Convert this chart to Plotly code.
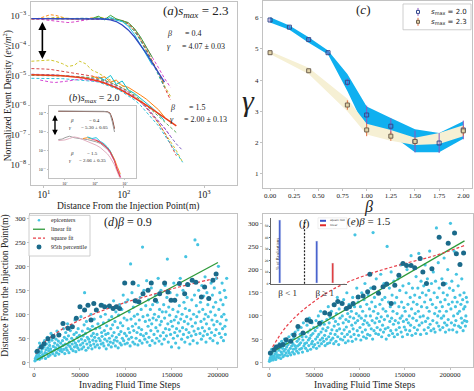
import plotly.graph_objects as go

W, H = 474, 391
SERIF = "Liberation Serif"
SANS = "DejaVu Sans"
FRAME = "#c2c2c2"
INK = "#222222"

def fx(p):
    return p / W

def fy(p):
    return 1 - p / H

def scaled(vals, k):
    return [None if v is None else v * k for v in vals]

# ---------------- (a) event density vs distance, s_max = 2.3 ----------------
A_DIST = [7, 8, 9, 10, 12, 14, 17, 20, 24, 28, 33, 40, 48, 57, 68, 80, 95,
          113, 135, 160, 190, 226, 270, 320, 380, 450, 540, 640]
# beta = 0.4 family (units 1e-4)
A_UP_1 = [8.0, 8.0, 8.5, 9.5, 11.0, 10.5, 9.0, 8.0, 7.6, 8.3, 8.0, 8.6, 8.2, 8.5, 7.6, 7.8, 6.8, 5.2, 3.0, 1.6, 0.7, 0.3, 0.12, 0.05, None, None, None, None]
A_UP_2 = [8.0, 8.0, 7.8, 7.5, 7.0, 6.5, 6.2, 6.0, 6.3, 6.8, 7.5, 8.0, 7.8, 8.2, 8.0, 7.4, 7.0, 5.8, 3.6, 1.9, 0.9, 0.4, 0.18, 0.08, 0.04, None, None, None]
A_UP_3 = [8.0, 8.1, 8.0, 8.2, 8.5, 9.0, 8.7, 8.3, 8.0, 7.8, 8.2, 8.0, 9.5, 8.4, 8.0, 7.6, 7.0, 5.5, 3.4, 1.7, 0.75, 0.3, 0.12, 0.045, 0.02, None, None, None]
A_UP_4 = [8.0, 8.0, 8.0, 8.0, 8.0, 8.0, 8.0, 8.0, 8.0, 8.0, 8.0, 8.0, 8.0, 8.0, 8.0, 7.8, 7.0, 5.5, 3.5, 1.7, 0.75, 0.3, 0.12, 0.04, 0.015, None, None, None]
A_UP_5 = [None, None, None, None, None, 8.0, 8.1, 8.0, 7.9, 8.2, 8.4, 8.0, 8.6, 7.8, 8.2, 7.5, 6.6, 5.0, 3.1, 1.5, 0.65, 0.28, 0.1, 0.04, None, None, None, None]
A_UP_6 = [None] * 11 + [8.2, 9.8, 7.5, 10.5, 8.0, 7.0, 6.0, 3.8, 2.0, 0.9, 0.4] + [None] * 6
A_UP_7 = [None] * 12 + [8.5, 7.5, 9.0, 7.2, 6.5, 4.5, 2.4, 1.1, 0.5, 0.22] + [None] * 6
A_UP_FIT = [8.2, 8.2, 8.2, 8.2, 8.2, 8.2, 8.2, 8.2, 8.2, 8.2, 8.2, 8.2, 8.1, 7.9, 7.4, 6.5, 5.0, 3.4, 2.0, 1.1, 0.55, 0.26, 0.12, 0.06, None, None, None, None]
# beta = 1.5 family (units 1e-6)
A_LO_1 = [30, 31, 32, 33, 33, 30, 25, 20, 22, 30, 25, 15, 12, 9, 7, 6, 4.5, 3.5, 2.4, 1.5, 0.9, 0.5, 0.25, 0.12, 0.06, 0.03, 0.012, None]
A_LO_2 = [17, 17, 17, 16.5, 16, 15, 14, 13, 12, 11, 10, 9.5, 8.5, 7.0, 5.8, 4.8, 3.8, 2.8, 2.0, 1.3, 0.8, 0.45, 0.25, 0.12, 0.05, 0.02, None, None]
A_LO_3 = [8, 8, 8, 8, 8, 8, 7.8, 7.5, 7.3, 7.0, 6.8, 6.4, 6.0, 5.0, 4.3, 3.6, 2.8, 2.1, 1.5, 1.0, 0.6, 0.35, 0.2, 0.1, 0.05, 0.025, 0.012, None]
A_LO_4 = [None, None, 7, 6.5, 6, 5.8, 6, 6.5, 7, 7.5, 7.2, 6.8, 6.2, 5.5, 4.8, 4.0, 3.2, 2.5, 1.9, 1.3, 0.85, 0.5, 0.3, 0.17, 0.09, None, None, None]
A_LO_5 = [11, 11, 11, 11, 11, 10.5, 10, 9.8, 9.5, 9, 8.5, 8, 7.2, 6.2, 5.2, 4.2, 3.4, 2.6, 1.9, 1.3, 0.85, 0.5, 0.3, 0.17, 0.09, 0.05, 0.03, None]
A_LO_6 = [10, 10, 10, 10, 10, 10, 10, 9.5, 9.2, 9, 8.8, 8.5, 7.6, 6.8, 5.8, 4.8, 3.9, 3.0, 2.2, 1.5, 1.0, 0.65, 0.42, 0.28, 0.18, 0.12, None, None]
A_LO_7 = [None] * 11 + [9.5, 8, 9, 6, 7, 4.5, 4.0, 3.0, 2.2, 1.6, 1.1, 0.7, 0.4] + [None] * 4
A_LO_8 = [None] * 12 + [9, 7, 10, 5, 6.5, 3.2, 2.5, 1.7, 1.2, 0.8, 0.5, 0.3] + [None] * 4
A_LO_FIT = [10.5, 10.5, 10.4, 10.3, 10.2, 10, 9.8, 9.5, 9, 8.5, 8, 7.3, 6.5, 5.6, 4.7, 3.9, 3.1, 2.4, 1.8, 1.35, 1.0, 0.72, 0.52, 0.38, 0.27, 0.2, None, None]

A_UP_CURVES = [A_UP_1, A_UP_2, A_UP_3, A_UP_4, A_UP_5, A_UP_6, A_UP_7]
A_UP_STYLE = [("#ff8c1a", "3px,2px"), ("#d845c8", "3px,2px"), ("#c8bd2a", "3px,2px"),
              ("#e03a3a", "3px,2px"), ("#1fb0a0", "3px,2px"), ("#3aa23a", "solid"),
              ("#1fc3e3", "solid")]
A_LO_CURVES = [A_LO_1, A_LO_2, A_LO_3, A_LO_4, A_LO_5, A_LO_6, A_LO_7, A_LO_8]
A_LO_STYLE = [("#cfc52c", "3px,2px"), ("#d84848", "3px,2px"), ("#2ec0d8", "3px,2px"),
              ("#d548d5", "3px,2px"), ("#7f62c2", "3px,2px"), ("#5fae5f", "3px,2px"),
              ("#ff7f0e", "solid"), ("#12bfd2", "solid")]

# ---------------- (b) inset, s_max = 2.0 ----------------
B_DIST = [6, 8, 10, 14, 20, 28, 40, 56, 80, 110, 150, 200, 260, 320, 380, 450, 550, 700, 850]
B_UP_1 = [1.25] * 12 + [1.2, 1.0, 0.5, 0.15, None, None, None]   # units 1e-4
B_UP_2 = [1.3] * 11 + [1.25, 1.15, 0.9, 0.35, 0.1, None, None, None]
B_LO_1 = [4, 4.2, 5, 6, 5, 4.5, 4.2, 4, 3.5, 3, 2.5, 1.8, 1.2, 0.8, 0.5, 0.3, 0.12, 0.05, None]  # units 1e-6
B_LO_2 = [3.5, 3.6, 3.8, 4.5, 5.5, 5, 4, 3.2, 2.6, 2.0, 1.5, 1.0, 0.7, 0.45, 0.3, 0.18, 0.08, 0.03, 0.015]
B_LO_3 = [None] * 6 + [4.5, 5, 4.2, 3.5, 3.0, 2.2, 1.5, 1.0, 0.6, 0.35, 0.15, 0.06, None]
B_LO_4 = [None] * 7 + [5.5, 4.5, 5, 3.2, 2.4, 1.6, 1.0, 0.55, 0.3, None, None, None]
B_LO_5 = [None] * 8 + [4, 3.8, 3.0, 2.0, 1.3, 0.8, 0.5, 0.28, 0.12, 0.05, 0.02]
B_LO_6 = [None] * 9 + [3.6, 2.8, 2.0, 1.4, 0.9, 0.55, 0.3, 0.1, 0.04, None]
B_UP_CURVES = [B_UP_1, B_UP_2]
B_UP_STYLE = ["#8b3a2a", "#9a9a9a"]
B_LO_CURVES = [B_LO_1, B_LO_2, B_LO_3, B_LO_4, B_LO_5, B_LO_6]
B_LO_STYLE = ["#a0a0a0", "#e0b0c0", "#ff8c1a", "#1fc3e3", "#e070d0", "#e04040"]

# ---------------- (c) gamma vs beta ----------------
C_BETA_20 = [0.0, 0.2, 0.4, 0.6, 0.8, 1.0, 1.25, 1.5, 1.75, 2.0]
C_GAMMA_20 = [5.93, 5.7, 5.3, 4.88, 3.93, 2.88, 2.52, 2.03, 1.98, 2.4]
C_ERR_20 = [0.05, 0.04, 0.06, 0.05, 0.12, 0.3, 0.25, 0.35, 0.32, 0.3]
C_BAND_20_LO = [5.85, 5.62, 5.2, 4.82, 3.65, 2.35, 2.25, 1.68, 1.68, 2.12]
C_BAND_20_HI = [6.02, 5.75, 5.38, 4.95, 4.2, 3.15, 2.78, 2.42, 2.3, 2.68]
C_BETA_23 = [0.0, 0.4, 0.8, 1.0, 1.25, 1.5, 2.0]
C_GAMMA_23 = [4.88, 4.3, 3.2, 2.4, 2.2, 2.03, 2.37]
C_ERR_23 = [0.03, 0.05, 0.15, 0.2, 0.15, 0.12, 0.15]
C_BAND_23_X = [0.0, 0.4, 0.8, 1.0, 1.25, 1.5, 1.75, 2.0]
C_BAND_23_LO = [4.84, 4.2, 3.0, 2.25, 2.05, 1.92, 1.95, 2.2]
C_BAND_23_HI = [4.93, 4.4, 3.4, 2.6, 2.4, 2.15, 2.3, 2.55]

# ---------------- (d) beta = 0.9 (time in thousands of steps) ----------------
D_EPI = [(1,3),(1.5,8),(2,5),(2.5,12),(3,18),(3.5,7),(4,25),(4.5,10),(5,15),(5.5,30),(6,6),(6.5,20),(7,12),(7.5,35),(8,22),(8.5,9),(9,28),(9.5,16),(2,22),(6,40),
 (10.5,14),(11,32),(11.5,45),(12,20),(12.5,8),(13,26),(13.5,38),(14,18),(14.5,52),(15,30),(15.5,12),(16,24),(16.5,42),(17,35),(17.5,15),(18,28),(18.5,60),(19,22),(19.5,46),
 (20.5,18),(21,33),(21.5,55),(22,25),(22.5,40),(23,14),(23.5,30),(24,48),(24.5,20),(25,65),(25.5,36),(26,27),(26.5,44),(27,17),(27.5,32),(28,58),(28.5,24),(29,40),(29.5,28),
 (30.5,22),(31,45),(31.5,35),(32,70),(32.5,27),(33,52),(33.5,18),(34,38),(34.5,62),(35,30),(35.5,48),(36,25),(36.5,80),(37,36),(37.5,55),(38,20),(38.5,42),(39,33),(39.5,66),
 (40.5,28),(41,50),(41.5,38),(42,75),(42.5,24),(43,45),(43.5,58),(44,32),(44.5,88),(45,40),(45.5,22),(46,62),(46.5,35),(47,52),(47.5,30),(48,70),(48.5,44),(49,26),(49.5,56),
 (50.5,36),(51,95),(51.5,48),(52,28),(52.5,65),(53,40),(53.5,55),(54,32),(54.5,78),(55,145),(55.5,45),(56,60),(56.5,25),(57,85),(57.5,38),(58,52),(58.5,70),(59,30),(59.5,48),
 (60.5,42),(61,68),(61.5,35),(62,100),(62.5,55),(63,28),(63.5,75),(64,46),(64.5,60),(65,38),(65.5,90),(66,52),(66.5,32),(67,70),(67.5,44),(68,110),(68.5,58),(69,36),(69.5,80),
 (70.5,50),(71,30),(71.5,72),(72,45),(72.5,95),(73,38),(73.5,62),(74,54),(74.5,120),(75,40),(75.5,82),(76,34),(76.5,66),(77,48),(77.5,100),(78,58),(78.5,28),(79,76),(79.5,44),
 (80.5,60),(81,36),(81.5,88),(82,50),(82.5,115),(83,42),(83.5,70),(84,32),(84.5,95),(85,55),(85.5,78),(86,40),(86.5,128),(87,62),(87.5,46),(88,85),(88.5,34),(89,105),(89.5,52),
 (90.5,44),(91,72),(91.5,30),(92,98),(92.5,58),(93,120),(93.5,40),(94,82),(94.5,64),(95,36),(95.5,110),(96,50),(96.5,76),(97,140),(97.5,45),(98,92),(98.5,60),(99,38),(99.5,125),
 (100.5,55),(101,88),(101.5,40),(102,130),(102.5,70),(103,48),(103.5,105),(104,62),(104.5,34),(105,205),(105.5,90),(106,52),(106.5,145),(107,75),(107.5,42),(108,115),(108.5,66),(109,96),(109.5,38),
 (110.5,80),(111,50),(111.5,125),(112,62),(112.5,100),(113,36),(113.5,160),(114,72),(114.5,88),(115,45),(115.5,135),(116,58),(116.5,110),(117,68),(117.5,40),(118,240),(118.5,95),(119,55),(119.5,150),
 (120.5,48),(121,85),(121.5,118),(122,60),(122.5,170),(123,42),(123.5,98),(124,75),(124.5,130),(125,52),(125.5,88),(126,35),(126.5,110),(127,66),(127.5,155),(128,80),(128.5,45),(129,120),(129.5,92),
 (130.5,58),(131,100),(131.5,40),(132,140),(132.5,72),(133,88),(133.5,50),(134,125),(134.5,65),(135,175),(135.5,95),(136,44),(136.5,110),(137,78),(137.5,55),(138,150),(138.5,85),(139,38),(139.5,105),
 (140.5,62),(141,120),(141.5,48),(142,92),(142.5,160),(143,70),(143.5,105),(144,55),(144.5,135),(145,215),(145.5,80),(146,42),(146.5,115),(147,68),(147.5,98),(148,145),(148.5,58),(149,85),(149.5,32),
 (150.5,75),(151,110),(151.5,50),(152,165),(152.5,88),(153,62),(153.5,128),(154,40),(154.5,95),(155,70),(155.5,140),(156,55),(156.5,105),(157,82),(157.5,30),(158,118),(158.5,65),(159,175),(159.5,90),
 (160.5,48),(161,100),(161.5,72),(162,150),(162.5,58),(163,125),(163.5,85),(164,42),(164.5,112),(165,220),(165.5,68),(166,95),(166.5,135),(167,52),(167.5,80),(168,160),(168.5,62),(169,108),(169.5,38),
 (170.5,90),(171,55),(171.5,130),(172,75),(172.5,170),(173,45),(173.5,100),(174,65),(174.5,140),(175,255),(175.5,82),(176,58),(176.5,118),(177,95),(177.5,40),(178,245),(178.5,70),(179,150),(179.5,105),
 (180.5,60),(181,125),(181.5,85),(182,48),(182.5,160),(183,72),(183.5,110),(184,55),(184.5,138),(185,90),(185.5,65),(186,178),(186.5,100),(187,42),(187.5,80),(188,145),(188.5,58),(189,120),(189.5,95),
 (190.5,70),(191,132),(191.5,50),(192,105),(192.5,165),(193,62),(193.5,88),(194,140),(194.5,45),(195,115),(195.5,78),(196,155),(196.5,56),(197,98),(197.5,125),(198,68),(198.5,175),(199,85),(199.5,40),
 (200.5,200),(201,110),(201.5,60),(202,145),(202.5,80),(203,130),(203.5,52),(204,95),(204.5,165),(205,70),(205.5,120),(206,45),(206.5,100),(207,150),(207.5,75),(208,58),(208.5,135),(209,88),(209.5,175)]
D_P95 = [(3.6,22.7),(8,31.7),(10.9,38.5),(15.2,48.9),(20.7,53.7),(27,57),(31.5,81),(37,71),(41.7,74),(46,91.5),
 (50,115.6),(55,108.7),(58.7,119),(62,88),(65,122.5),(67.8,108.7),(73,119),(76.8,115.6),(82,117),(86,112),(89.5,115.6),
 (93,112),(98.6,165),(107.6,165),(110,128),(114,126),(118.5,143),(124,150),(127.5,165),(132,129),(136.6,143),(142,165),
 (145.6,146.6),(149,129),(153,129),(158,164),(163.8,143),(167,162),(172,171),(176,167),(182,136),(185.5,157),(190,133),
 (194.5,171),(198,184)]
D_LIN_T = [3, 200]
D_LIN_R = [5, 208]
D_SQ_T = [2, 10, 25, 50, 75, 100, 125, 150, 175, 200]
D_SQ_R = [17.6, 39, 62, 88, 108, 125, 139, 153, 165, 176]

# ---------------- (e) beta = 1.5 ----------------
E_EPI = [(0.5,2),(1,6),(1.5,10),(2,4),(2.5,15),(3,8),(3.5,20),(4,12),(4.5,5),(5,25),(5.5,14),(6,9),(6.5,30),(7,18),(7.5,6),(8,22),(8.5,12),(9,35),(9.5,16),(3,28),
 (10.5,10),(11,26),(11.5,40),(12,15),(12.5,32),(13,8),(13.5,22),(14,45),(14.5,18),(15,30),(15.5,12),(16,36),(16.5,24),(17,50),(17.5,15),(18,28),(18.5,42),(19,20),(19.5,33),
 (20.5,14),(21,38),(21.5,25),(22,55),(22.5,20),(23,44),(23.5,30),(24,16),(24.5,48),(25,35),(25.5,60),(26,22),(26.5,40),(27,28),(27.5,52),(28,18),(28.5,36),(29,65),(29.5,30),
 (30.5,24),(31,45),(31.5,35),(32,70),(32.5,20),(33,50),(33.5,38),(34,28),(34.5,60),(35,42),(35.5,75),(36,30),(36.5,55),(37,22),(37.5,48),(38,85),(38.5,35),(39,62),(39.5,40),
 (40.5,30),(41,55),(41.5,42),(42,80),(42.5,25),(43,65),(43.5,48),(44,36),(44.5,95),(45,52),(45.5,70),(46,28),(46.5,58),(47,40),(47.5,85),(48,45),(48.5,62),(49,33),(49.5,75),
 (50.5,38),(51,68),(51.5,50),(52,90),(52.5,30),(53,75),(53.5,55),(54,42),(54.5,100),(55,60),(55.5,35),(56,80),(56.5,48),(57,110),(57.5,65),(58,40),(58.5,88),(59,52),(59.5,72),
 (60.5,45),(61,82),(61.5,58),(62,36),(62.5,105),(63,68),(63.5,50),(64,92),(64.5,40),(65,75),(65.5,120),(66,55),(66.5,85),(67,42),(67.5,98),(68,62),(68.5,48),(69,110),(69.5,70),
 (70.5,52),(71,95),(71.5,40),(72,78),(72.5,125),(73,60),(73.5,88),(74,45),(74.5,105),(75,68),(75.5,140),(76,55),(76.5,82),(77,38),(77.5,115),(78,72),(78.5,95),(79,50),(79.5,130),
 (80.5,62),(81,100),(81.5,48),(82,85),(82.5,135),(83,70),(83.5,55),(84,115),(84.5,42),(85,92),(85.5,76),(86,150),(86.5,60),(87,105),(87.5,46),(88,88),(88.5,125),(89,66),(89.5,98),
 (90.5,55),(91,110),(91.5,80),(92,45),(92.5,140),(93,72),(93.5,95),(94,60),(94.5,120),(95,275),(95.5,85),(96,50),(96.5,105),(97,160),(97.5,68),(98,90),(98.5,130),(99,58),(99.5,100),
 (100.5,75),(101,120),(101.5,48),(102,95),(102.5,150),(103,65),(103.5,110),(104,82),(104.5,55),(105,135),(105.5,90),(106,170),(106.5,70),(107,100),(107.5,52),(108,125),(108.5,85),(109,60),(109.5,145),
 (110.5,80),(111,115),(111.5,58),(112,100),(112.5,160),(113,72),(113.5,130),(114,90),(114.5,50),(115,280),(115.5,110),(116,68),(116.5,140),(117,85),(117.5,120),(118,62),(118.5,180),(119,95),(119.5,75),
 (120.5,105),(121,60),(121.5,150),(122,88),(122.5,125),(123,70),(123.5,190),(124,98),(124.5,55),(125,135),(125.5,80),(126,115),(126.5,65),(127,170),(127.5,92),(128,140),(128.5,72),(129,110),(129.5,50),
 (130.5,250),(131,100),(131.5,75),(132,130),(132.5,58),(133,160),(133.5,88),(134,120),(134.5,68),(135,195),(135.5,95),(136,145),(136.5,62),(137,110),(137.5,82),(138,175),(138.5,55),(139,128),(139.5,90),
 (140.5,70),(141,140),(141.5,105),(142,60),(142.5,180),(143,85),(143.5,120),(144,75),(144.5,155),(145,95),(145.5,210),(146,65),(146.5,130),(147,100),(147.5,55),(148,165),(148.5,88),(149,118),(149.5,76),
 (150.5,110),(151,70),(151.5,150),(152,92),(152.5,200),(153,60),(153.5,125),(154,85),(154.5,170),(155,100),(155.5,68),(156,140),(156.5,80),(157,230),(157.5,115),(158,58),(158.5,160),(159,95),(159.5,130),
 (160.5,75),(161,145),(161.5,105),(162,62),(162.5,185),(163,90),(163.5,125),(164,70),(164.5,160),(165,110),(165.5,235),(166,80),(166.5,140),(167,98),(167.5,60),(168,175),(168.5,120),(169,85),(169.5,150),
 (170.5,100),(171,165),(171.5,70),(172,130),(172.5,210),(173,88),(173.5,145),(174,62),(174.5,118),(175,180),(175.5,95),(176,75),(176.5,155),(177,110),(177.5,240),(178,82),(178.5,135),(179,68),(179.5,170),
 (180.5,125),(181,90),(181.5,195),(182,72),(182.5,150),(183,105),(183.5,65),(184,175),(184.5,118),(185,290),(185.5,85),(186,140),(186.5,100),(187,215),(187.5,78),(188,160),(188.5,110),(189,70),(189.5,130),
 (190.5,95),(191,180),(191.5,120),(192,75),(192.5,150),(193,100),(193.5,225),(194,85),(194.5,135),(195,65),(195.5,170),(196,110),(196.5,80),(197,145),(197.5,200),(198,92),(198.5,125),(199,70),(199.5,160),
 (200.5,300),(201,115),(201.5,85),(202,175),(202.5,130),(203,70),(203.5,155),(204,100),(204.5,240),(205,80),(205.5,140),(206,120),(206.5,90),(207,190),(207.5,65),(208,130),(208.5,105),(209,165),(209.5,78),
 (210.5,110),(211,145),(211.5,75),(212,125),(212.5,95),(213,180),(213.5,85),(214,135),(214.5,68),(215,115),(215.5,150),(216,90),(216.5,120),(217,78),(217.5,100),(218,140),(218.5,88),(219,130)]
E_P95 = [(1.5,20),(5.5,27),(8,33),(11.8,36),(15.5,38),(19,48.6),(24,45),(27.7,59),(32,77),(37.6,63),(42,91),(46,88),
 (56,84),(61.6,107),(67,104),(72,124),(76,131),(80.8,127),(85.6,116),(89,120),(93,127),(98.5,141),(104,143),(109,152),
 (111.4,190),(116,161),(121,149),(126,163),(130,169),(135,127),(139,166),(143.5,188),(148,213),(152,209),(157,209),
 (161,204),(167,224),(170,195),(174,170),(180,202),(188,270),(192.6,169),(198,257),(205,279),(207,234),(211,211),(215,236)]
E_LIN_T = [2, 216]
E_LIN_R = [20, 262]
E_SQ_T = [4, 10, 17, 36, 73, 110, 146, 183, 216]
E_SQ_R = [33, 52, 72, 110, 160, 190, 211, 230, 252]

# ---------------- (f) share of realizations ----------------
F_GROUPS = ["β < 1", "β ≥ 1"]
F_SQRT = [55, 37]
F_LINEAR = [None, 18]

fig = go.Figure()

# (a)
for vals, (col, dash) in zip(A_UP_CURVES, A_UP_STYLE):
    fig.add_trace(go.Scatter(x=A_DIST, y=scaled(vals, 1e-4), mode="lines",
                             line=dict(color=col, width=1, dash=dash), xaxis="x", yaxis="y"))
fig.add_trace(go.Scatter(x=A_DIST, y=scaled(A_UP_FIT, 1e-4), mode="lines",
                         line=dict(color="#2f48c0", width=1.3), xaxis="x", yaxis="y"))
for vals, (col, dash) in zip(A_LO_CURVES, A_LO_STYLE):
    fig.add_trace(go.Scatter(x=A_DIST, y=scaled(vals, 1e-6), mode="lines",
                             line=dict(color=col, width=1, dash=dash), xaxis="x", yaxis="y"))
fig.add_trace(go.Scatter(x=A_DIST, y=scaled(A_LO_FIT, 1e-6), mode="lines",
                         line=dict(color="#ea3e1a", width=1.5), xaxis="x", yaxis="y"))

# (b)
for vals, col in zip(B_UP_CURVES, B_UP_STYLE):
    fig.add_trace(go.Scatter(x=B_DIST, y=scaled(vals, 1e-4), mode="lines",
                             line=dict(color=col, width=1), xaxis="x2", yaxis="y2"))
for vals, col in zip(B_LO_CURVES, B_LO_STYLE):
    fig.add_trace(go.Scatter(x=B_DIST, y=scaled(vals, 1e-6), mode="lines",
                             line=dict(color=col, width=1), xaxis="x2", yaxis="y2"))

# (c)
fig.add_trace(go.Scatter(x=C_BETA_20 + C_BETA_20[::-1], y=C_BAND_20_HI + C_BAND_20_LO[::-1],
                         fill="toself", fillcolor="#0fb0f0", line=dict(width=0), mode="lines",
                         xaxis="x3", yaxis="y3"))
fig.add_trace(go.Scatter(x=C_BAND_23_X + C_BAND_23_X[::-1], y=C_BAND_23_HI + C_BAND_23_LO[::-1],
                         fill="toself", fillcolor="#f6f0d4", line=dict(width=0), mode="lines",
                         xaxis="x3", yaxis="y3"))
fig.add_trace(go.Scatter(x=C_BETA_20, y=C_GAMMA_20, mode="markers",
                         error_y=dict(type="data", array=C_ERR_20, color="#8a58c0", thickness=1, width=0),
                         marker=dict(symbol="square-open", size=4, color="#34488c", line=dict(width=1)),
                         xaxis="x3", yaxis="y3"))
fig.add_trace(go.Scatter(x=C_BETA_23, y=C_GAMMA_23, mode="markers",
                         error_y=dict(type="data", array=C_ERR_23, color="#e2683a", thickness=1, width=0),
                         marker=dict(symbol="square", size=4, color="#e2d4a8", line=dict(color="#6e6050", width=1)),
                         xaxis="x3", yaxis="y3"))

# (d)
fig.add_trace(go.Scatter(x=[p[0] * 1000 for p in D_EPI], y=[p[1] for p in D_EPI], mode="markers",
                         marker=dict(size=3.2, color="#46c4e2"), xaxis="x4", yaxis="y4"))
fig.add_trace(go.Scatter(x=[t * 1000 for t in D_LIN_T], y=D_LIN_R, mode="lines",
                         line=dict(color="#2e9a3a", width=1.3), xaxis="x4", yaxis="y4"))
fig.add_trace(go.Scatter(x=[t * 1000 for t in D_SQ_T], y=D_SQ_R, mode="lines", line_shape="spline",
                         line=dict(color="#e8404a", width=1.2, dash="3px,2px"), xaxis="x4", yaxis="y4"))
fig.add_trace(go.Scatter(x=[p[0] * 1000 for p in D_P95], y=[p[1] for p in D_P95], mode="markers",
                         marker=dict(size=5, color="#1b6a8a"), xaxis="x4", yaxis="y4"))

# (e)
fig.add_trace(go.Scatter(x=[p[0] * 1000 for p in E_EPI], y=[p[1] for p in E_EPI], mode="markers",
                         marker=dict(size=3.2, color="#46c4e2"), xaxis="x5", yaxis="y5"))
fig.add_trace(go.Scatter(x=[t * 1000 for t in E_LIN_T], y=E_LIN_R, mode="lines",
                         line=dict(color="#2e9a3a", width=1.3), xaxis="x5", yaxis="y5"))
fig.add_trace(go.Scatter(x=[t * 1000 for t in E_SQ_T], y=E_SQ_R, mode="lines", line_shape="spline",
                         line=dict(color="#e8404a", width=1.2, dash="3px,2px"), xaxis="x5", yaxis="y5"))
fig.add_trace(go.Scatter(x=[p[0] * 1000 for p in E_P95], y=[p[1] for p in E_P95], mode="markers",
                         marker=dict(size=5, color="#1b6a8a"), xaxis="x5", yaxis="y5"))

# (f)
fig.add_trace(go.Bar(x=F_GROUPS, y=F_SQRT, width=0.06, offset=-0.24, marker_color="#3550c8",
                     xaxis="x7", yaxis="y7"))
fig.add_trace(go.Bar(x=F_GROUPS, y=F_LINEAR, width=0.06, offset=0.2, marker_color="#e02828",
                     xaxis="x7", yaxis="y7"))

fig.update_traces(showlegend=False, hoverinfo="skip")


def frame_axis(**kw):
    base = dict(showline=True, mirror=True, linecolor=FRAME, linewidth=1,
                showgrid=False, zeroline=False, ticks="outside", ticklen=2,
                tickcolor=FRAME, tickfont=dict(family=SERIF, size=7, color=INK))
    base.update(kw)
    return base


sup = lambda p: "10<sup>%s</sup>" % (str(p).replace("-", "−"))

layout_axes = dict(
    xaxis=frame_axis(domain=[fx(31), fx(237)], anchor="y", type="log", range=[0.84, 3.41],
                     tickvals=[10, 100, 1000], ticktext=[sup(1), sup(2), sup(3)],
                     ticklabelstandoff=-1,
                     tickfont=dict(family=SERIF, size=9.5, color=INK)),
    yaxis=frame_axis(domain=[fy(185), fy(1)], anchor="x", type="log", range=[-8.67, -2.53],
                     tickvals=[1e-3, 1e-4, 1e-5, 1e-6, 1e-7, 1e-8],
                     ticktext=[sup(-3), sup(-4), sup(-5), sup(-6), sup(-7), sup(-8)],
                     tickfont=dict(family=SERIF, size=9, color=INK)),
    xaxis2=frame_axis(domain=[fx(49), fx(136)], anchor="y2", type="log", range=[0.467, 3.37],
                      tickvals=[10, 100, 1000], ticktext=[sup(1), sup(2), sup(3)], ticklen=1.5,
                      tickfont=dict(family=SERIF, size=4, color=INK)),
    yaxis2=frame_axis(domain=[fy(178), fy(106)], anchor="x2", type="log", range=[-7.42, -3.63],
                      tickvals=[1e-4, 1e-5, 1e-6, 1e-7],
                      ticktext=[sup(-4), sup(-5), sup(-6), sup(-7)], ticklen=1.5,
                      tickfont=dict(family=SERIF, size=4, color=INK)),
    xaxis3=frame_axis(domain=[fx(263), fx(472)], anchor="y3", range=[-0.073, 2.09],
                      tickvals=[0, 0.25, 0.5, 0.75, 1.0, 1.25, 1.5, 1.75, 2.0], tickformat=".2f",
                      ticklabelstandoff=-1),
    yaxis3=frame_axis(domain=[fy(188), 1], anchor="x3", range=[0.55, 6.54],
                      tickvals=[1, 2, 3, 4, 5, 6]),
    xaxis4=frame_axis(domain=[fx(30), fx(237)], anchor="y4", range=[-4350, 220700],
                      tickvals=[0, 50000, 100000, 150000, 200000], tickformat="d",
                      ticklabelstandoff=-2),
    yaxis4=frame_axis(domain=[fy(369), fy(215)], anchor="x4", range=[-10.3, 308.3],
                      tickvals=[0, 50, 100, 150, 200, 250, 300]),
    xaxis5=frame_axis(domain=[fx(263), fx(473)], anchor="y5", range=[-6630, 225400],
                      tickvals=[0, 50000, 100000, 150000, 200000], tickformat="d",
                      ticklabelstandoff=-2),
    yaxis5=frame_axis(domain=[fy(369), fy(215)], anchor="x5", range=[-10.7, 319.3],
                      tickvals=[0, 50, 100, 150, 200, 250, 300]),
    xaxis6=frame_axis(domain=[fx(264), fx(348)], anchor="y6", range=[0, 1], showticklabels=False,
                      ticks=""),
    yaxis6=frame_axis(domain=[fy(299), fy(217)], anchor="x6", range=[0, 1], showticklabels=False,
                      ticks=""),
    xaxis7=dict(domain=[fx(271), fx(347)], anchor="y7", type="category", range=[-0.45, 1.6],
                showline=True, mirror=False, linecolor="#666666", linewidth=0.8, ticks="",
                showgrid=False, zeroline=False,
                tickfont=dict(family=SERIF, size=9, color=INK)),
    yaxis7=dict(domain=[fy(285), fy(219)], anchor="x7", range=[0, 57],
                tickvals=[0, 10, 20, 30, 40, 50], showline=True, mirror=False,
                linecolor="#666666", linewidth=0.8, ticks="outside", ticklen=1, tickcolor="#666666",
                showgrid=False, zeroline=False,
                tickfont=dict(family=SANS, size=3, color=INK)),
)

shapes = [
    dict(type="rect", xref="x2 domain", yref="y2 domain", x0=0, x1=1, y0=0, y1=1,
         fillcolor="white", line=dict(width=0), layer="below"),
    dict(type="rect", xref="x6 domain", yref="y6 domain", x0=0, x1=1, y0=0, y1=1,
         fillcolor="white", line=dict(width=0), layer="below"),
    dict(type="line", xref="x7", yref="y7 domain", x0=0.454, x1=0.454, y0=0, y1=0.97,
         line=dict(color="#222222", width=1.2, dash="2px,1.5px")),
]


def prect(x0, y0, x1, y1, **kw):
    d = dict(type="rect", xref="paper", yref="paper", x0=fx(x0), x1=fx(x1), y0=fy(y1), y1=fy(y0),
             layer="above")
    d.update(kw)
    return d


def pline(x0, y0, x1, y1, **kw):
    d = dict(type="line", xref="paper", yref="paper", x0=fx(x0), x1=fx(x1), y0=fy(y0), y1=fy(y1),
             layer="above")
    d.update(kw)
    return d


def pcirc(cx, cy, r, color):
    return dict(type="circle", xref="paper", yref="paper", x0=fx(cx - r), x1=fx(cx + r),
                y0=fy(cy + r), y1=fy(cy - r), fillcolor=color, line=dict(width=0), layer="above")


# legend of (d)
shapes += [
    prect(29, 216, 90, 257, fillcolor="white", line=dict(color=FRAME, width=0.8)),
    pcirc(39, 221, 1.3, "#46c4e2"),
    pline(33, 230, 45, 230, line=dict(color="#2e9a3a", width=1.3)),
    pline(33, 239, 45, 239, line=dict(color="#e8404a", width=1.2, dash="3px,2px")),
    pcirc(39, 248, 2.5, "#1b6a8a"),
]
# legend of (c)
shapes += [
    prect(403, 3, 471, 29, fillcolor="white", line=dict(color=FRAME, width=0.8)),
    pline(418, 7, 418, 15, line=dict(color="#8a58c0", width=1)),
    prect(416.5, 9.5, 419.5, 12.5, fillcolor="white", line=dict(color="#34488c", width=1)),
    pline(418, 17, 418, 25, line=dict(color="#e2683a", width=1)),
    prect(416.5, 19.5, 419.5, 22.5, fillcolor="#e2d4a8", line=dict(color="#6e6050", width=1)),
]
# legend of (f)
shapes += [
    prect(318, 218.5, 347, 229.5, fillcolor="white", line=dict(color="#dddddd", width=0.5)),
    prect(320, 220.5, 326, 222.5, fillcolor="#3550c8", line=dict(width=0)),
    prect(320, 225, 326, 227, fillcolor="#e02828", line=dict(width=0)),
]


def ann(x, y, text, size=8, family=SERIF, xanchor="center", angle=0, color=INK):
    return dict(xref="paper", yref="paper", x=fx(x), y=fy(y), text=text, showarrow=False,
                xanchor=xanchor, yanchor="middle", textangle=angle,
                font=dict(family=family, size=size, color=color))


annotations = [
    # (a)
    ann(196, 11, "(<i>a</i>)<i>s</i><sub><i>max</i></sub> = 2.3", 13),
    ann(169, 33, "<i>β</i>", 8), ann(193, 33, "= 0.4", 8),
    ann(169, 46, "<i>γ</i>", 8), ann(203, 46, "= 4.07 ± 0.03", 8),
    ann(172, 107, "<i>β</i>", 8), ann(197, 107, "= 1.5", 8),
    ann(172, 119, "<i>γ</i>", 8), ann(205, 119, "= 2.00 ± 0.13", 8),
    ann(94, 98, "(<i>b</i>)<i>s</i><sub><i>max</i></sub> = 2.0", 10),
    ann(72, 120, "<i>β</i>", 5), ann(94, 120, "= 0.4", 5),
    ann(70, 127, "<i>γ</i>", 5), ann(94, 127, "= 5.30 ± 0.05", 5),
    ann(72, 154, "<i>β</i>", 5), ann(92, 154, "= 1.5", 5),
    ann(70, 161, "<i>γ</i>", 5), ann(92, 161, "= 2.06 ± 0.35", 5),
    ann(7, 96, "Normalized Event Density (<i>ev</i>/<i>m</i><sup>2</sup>)", 9.5, angle=-90),
    ann(128, 207.5, "Distance From the Injection Point(m)", 9.5),
    # (c)
    ann(363, 9, "(<i>c</i>)", 13),
    ann(248, 100, "<i>γ</i>", 30),
    ann(368, 207.5, "<i>β</i>", 16),
    ann(429, 11, "<i>s</i><sub>max</sub> = 2.0", 7, family=SANS, xanchor="left"),
    ann(429, 21, "<i>s</i><sub>max</sub> = 2.3", 7, family=SANS, xanchor="left"),
    # (d)
    ann(128, 223, "(<i>d</i>)<i>β</i> = 0.9", 12),
    ann(49, 221, "epicenters", 6, xanchor="left"),
    ann(49, 230, "linear fit", 6, xanchor="left"),
    ann(49, 239, "square fit", 6, xanchor="left"),
    ann(49, 248, "95th percentile", 6, xanchor="left"),
    ann(6, 287, "Distance From the Injection Point(m)", 9.5, angle=-90),
    ann(129, 386.5, "Invading Fluid Time Steps", 9.5),
    # (e), (f)
    ann(369, 222, "(<i>e</i>)<i>β</i> = 1.5", 11),
    ann(304, 224, "(<i>f</i>)", 11),
    ann(277, 255, "% of Realizations", 4.5, angle=-90),
    ann(327.5, 221.5, "square root", 2.6, family=SANS, xanchor="left"),
    ann(327.5, 226, "linear", 2.6, family=SANS, xanchor="left"),
    ann(364, 386.5, "Invading Fluid Time Steps", 9.5),
    # arrows
    dict(xref="x", yref="y", axref="x", ayref="y", x=0.982, y=-3.2, ax=0.982, ay=-4.5,
         text="", showarrow=True, arrowhead=2, arrowside="end+start", arrowsize=1,
         arrowwidth=1.6, arrowcolor="black"),
    dict(xref="x2", yref="y2", axref="x2", ayref="y2", x=0.667, y=-4.1, ax=0.667, ay=-5.25,
         text="", showarrow=True, arrowhead=2, arrowside="end+start", arrowsize=0.8,
         arrowwidth=1.4, arrowcolor="black"),
]

fig.update_layout(
    width=W, height=H, margin=dict(l=0, r=0, t=0, b=0),
    paper_bgcolor="white", plot_bgcolor="white", showlegend=False,
    bargap=0, shapes=shapes, annotations=annotations, **layout_axes,
)

fig.write_html("out.html", config={"displayModeBar": False},
               post_script="document.body.style.margin='0';document.body.style.overflow='hidden';")
